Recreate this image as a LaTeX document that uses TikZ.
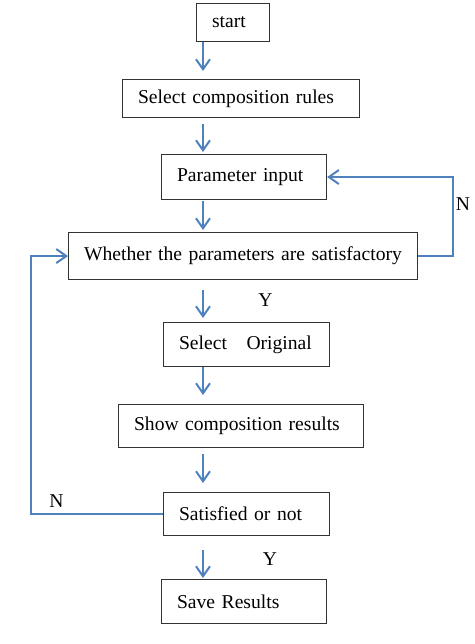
\documentclass[tikz,border=0pt]{standalone}
\usepackage{fontspec}
\setmainfont{Liberation Serif}
\usetikzlibrary{arrows.meta}

\begin{document}
\begin{tikzpicture}[x=1pt,y=1pt,yscale=-1,
	box/.style={draw=black!80, line width=1.1pt, anchor=north west, align=left, inner xsep=15.5pt, inner ysep=0pt, font=\fontsize{19.6}{23}\selectfont},
	flow/.style={color={rgb,255:red,79;green,129;blue,189}, line width=2pt, -{Straight Barb[length=10pt,width=14pt]}},
	yn/.style={inner sep=0pt, font=\fontsize{19.6}{23}\selectfont}]
	\useasboundingbox (0,0) rectangle (474,644);
	
	%Shape: Rectangle [id:start] 
	\node [box, text width=42pt, minimum height=38pt] (start) at (196,3) {start};
	%Shape: Rectangle [id:rules] 
	\node [box, text width=206pt, minimum height=38pt] (rules) at (122,79) {Select composition rules};
	%Shape: Rectangle [id:param] 
	\node [box, text width=134pt, minimum height=45pt] (param) at (161,154) {Parameter input};
	%Shape: Rectangle [id:check] 
	\node [box, text width=318pt, minimum height=47pt] (check) at (68,232) {Whether the parameters are satisfactory};
	%Shape: Rectangle [id:orig] 
	\node [box, text width=135pt, minimum height=44pt] (orig) at (163,322) {Select\quad Original};
	%Shape: Rectangle [id:show] 
	\node [box, text width=214pt, minimum height=43pt] (show) at (118,404) {Show composition results};
	%Shape: Rectangle [id:satis] 
	\node [box, text width=135pt, minimum height=43pt] (satis) at (163,492) {Satisfied or not};
	%Shape: Rectangle [id:save] 
	\node [box, text width=134pt, minimum height=44pt] (save) at (161,579) {Save Results};
	
	%uncomment if require: arrows of the main flow all stand at x=203
	\coordinate (ax) at (203,0);
	\coordinate (nr) at (453,0);
	\coordinate (nl) at (31,0);
	
	%Straight Lines [id:main flow] 
	\draw [flow, shorten >=8pt] (start.south -| ax) -- (rules.north -| ax);
	\draw [flow, shorten <=6pt, shorten >=2pt] (rules.south -| ax) -- (param.north -| ax);
	\draw [flow, shorten <=1pt, shorten >=2pt] (param.south -| ax) -- (check.north -| ax);
	\draw [flow, shorten <=10pt, shorten >=4pt] (check.south -| ax) -- (orig.north -| ax);
	\draw [flow, shorten >=9pt] (orig.south -| ax) -- (show.north -| ax);
	\draw [flow, shorten <=6pt, shorten >=9pt] (show.south -| ax) -- (satis.north -| ax);
	\draw [flow, shorten <=14pt, shorten >=1pt] (satis.south -| ax) -- (save.north -| ax);
	
	%Straight Lines [id:feedback] 
	\draw [flow] (check.east) -- (check.east -| nr) -- (param.east -| nr) -- (param.east);
	\draw [flow] (satis.west) -- (satis.west -| nl) -- (check.west -| nl) -- (check.west);
	
	% Text Node
	\node [yn] (n1) at (463,204) {N};
	% Text Node
	\node [yn] (y1) at (265.5,300.5) {Y};
	% Text Node
	\node [yn] (n2) at (56.5,501.5) {N};
	% Text Node
	\node [yn] (y2) at (270,559.5) {Y};
	
\end{tikzpicture}
\end{document}
